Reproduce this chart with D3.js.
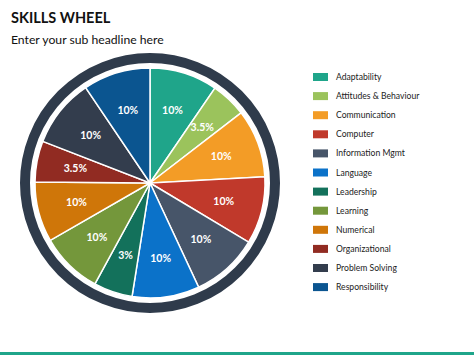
<!DOCTYPE html>
<html>
<head>
<meta charset="utf-8">
<script src="https://cdn.jsdelivr.net/npm/d3@7"></script>
<style>
  body { margin: 0; background: #fff; }
  svg { display: block; font-family: Lato, "Open Sans", sans-serif; }
</style>
</head>
<body>
<svg width="474" height="355"></svg>
<script>
// skills clockwise from 12 o'clock
const skills = ["Adaptability", "Attitudes & Behaviour", "Communication", "Computer",
  "Information Mgmt", "Language", "Leadership", "Learning", "Numerical",
  "Organizational", "Problem Solving", "Responsibility"];
// slice sizes as drawn in the picture (percent of the wheel)
const shares = [9.55, 5.0, 9.6, 9.45, 9.45, 9.45, 5.45, 8.75, 8.45, 5.75, 9.65, 9.45];
// printed labels
const labels = ["10%", "3.5%", "10%", "10%", "10%", "10%", "3%", "10%", "10%", "3.5%", "10%", "10%"];
const colors = ["#1fa58a", "#9bc35c", "#f39c26", "#c0392b", "#475569", "#0b72c9",
  "#13715b", "#74973b", "#cf7609", "#912b22", "#333d4d", "#0b5590"];

const svg = d3.select("svg");
const data = skills.map((s, i) => ({ name: s, value: shares[i], label: labels[i], color: colors[i] }));

// title block
svg.append("text").attr("x", 11).attr("y", 23)
  .attr("font-size", 14.5).attr("font-weight", "bold").attr("fill", "#111")
  .text("SKILLS WHEEL");
svg.append("text").attr("x", 11).attr("y", 44)
  .attr("font-size", 12.2).attr("fill", "#111")
  .text("Enter your sub headline here");

// bottom accent line
svg.append("rect").attr("x", 0).attr("y", 352).attr("width", 474).attr("height", 3)
  .attr("fill", "#1fa58a");

const cx = 150, cy = 183, r = 115;
const g = svg.append("g").attr("transform", "translate(" + cx + "," + cy + ")");

// outer dark ring
g.append("circle").attr("r", 125).attr("fill", "none")
  .attr("stroke", "#2f3b4b").attr("stroke-width", 10);

const pie = d3.pie().sort(null).value(d => d.value);
const arc = d3.arc().innerRadius(0).outerRadius(r);
const labelArc = d3.arc().innerRadius(76).outerRadius(76);

const arcs = pie(data);

g.selectAll(".slice")
  .data(arcs)
  .enter().append("path")
  .attr("class", "slice")
  .attr("d", arc)
  .attr("fill", d => d.data.color)
  .attr("stroke", "#fff")
  .attr("stroke-width", 1.5);

g.selectAll(".lbl")
  .data(arcs)
  .enter().append("text")
  .attr("class", "lbl")
  .attr("transform", d => "translate(" + labelArc.centroid(d) + ")")
  .attr("text-anchor", "middle")
  .attr("dy", "0.35em")
  .attr("font-size", 10.5)
  .attr("font-weight", "bold")
  .attr("fill", "#fff")
  .text(d => d.data.label);

// legend
const legend = svg.append("g").attr("transform", "translate(313,77)");
const row = legend.selectAll(".row")
  .data(data)
  .enter().append("g")
  .attr("class", "row")
  .attr("transform", (d, i) => "translate(0," + (i * 19.1) + ")");

row.append("rect").attr("x", 0).attr("y", -4).attr("width", 15).attr("height", 8)
  .attr("fill", d => d.color);
row.append("text").attr("x", 23).attr("dy", "0.35em")
  .attr("font-size", 8.6).attr("fill", "#222")
  .text(d => d.name);
</script>
</body>
</html>
